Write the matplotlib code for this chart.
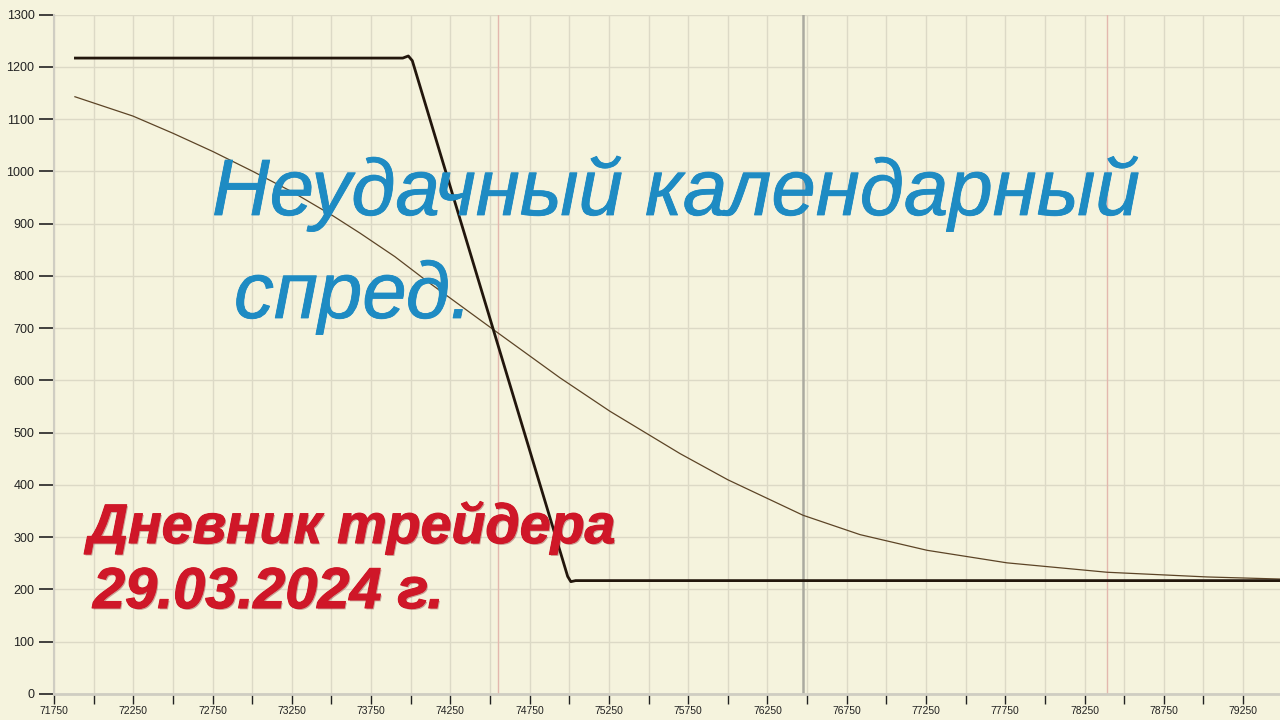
import matplotlib
matplotlib.use("Agg")
import matplotlib.pyplot as plt
import matplotlib.patheffects as pe

# ---- data ----
thick_x = [71885, 73950, 73985, 74010, 74990, 75010, 75040, 79483]
thick_y = [1217, 1217, 1221, 1212, 225, 215, 217, 217]

thin_x = [71882, 72248, 72501, 72753, 73005, 73258, 73510, 73680, 73900, 74103, 74532,
          74942, 75257, 75699, 76000, 76475, 76834, 77257, 77761, 78392, 79023, 79484]
thin_y = [1143, 1106, 1073, 1038, 1000, 960, 915, 882, 837, 790, 695,
          605, 541, 460, 410, 342, 305, 275, 251, 233, 224, 220]

red_lines = [74550, 78393]
grey_line = 76475

x_major = list(range(71750, 79500, 500))
x_minor = list(range(72000, 79500, 500))
y_ticks = list(range(0, 1301, 100))

title1 = "Неудачный календарный"
title2 = "спред."
sub1 = "Дневник трейдера"
sub2 = "29.03.2024 г."

# ---- figure ----
W, H = 1280, 720
bg = "#F5F3DD"
fig = plt.figure(figsize=(W / 100, H / 100), dpi=100, facecolor=bg)
ax = fig.add_axes([54 / W, 1 - 694 / H, 1 - 54 / W, (694 - 14.7) / H])
ax.set_facecolor(bg)
ax.set_xlim(71750, 79483)
ax.set_ylim(0, 1300)

grid_c = "#DCD9C6"
for xv in sorted(x_major + x_minor):
    ax.axvline(xv, color=grid_c, lw=1.0, zorder=1)
for yv in y_ticks:
    ax.axhline(yv, color=grid_c, lw=1.0, zorder=1)

for xv in red_lines:
    ax.axvline(xv, color="#E3B7AE", lw=1.0, zorder=2)
ax.axvline(grey_line, color="#ABAAA0", lw=1.8, zorder=2)

ax.plot(thin_x, thin_y, color="#5C4426", lw=0.9, zorder=3)
ax.plot(thick_x, thick_y, color="#22160C", lw=2.0, zorder=4, solid_joinstyle="round")

ax.set_xticks(x_major)
ax.set_xticks(x_minor, minor=True)
ax.set_xticklabels([str(v) for v in x_major])
ax.set_yticks(y_ticks)
ax.set_yticklabels([str(v) for v in y_ticks])
ax.tick_params(axis="x", which="both", length=7, width=1, color="#222222",
               labelsize=7.5, labelcolor="#222222", pad=2)
ax.tick_params(axis="y", length=11, width=1.2, color="#222222",
               labelsize=9, labelcolor="#222222", pad=3)
for lab in ax.get_xticklabels() + ax.get_yticklabels():
    lab.set_fontfamily("Liberation Sans")

for s in ["top", "right"]:
    ax.spines[s].set_visible(False)
ax.spines["left"].set_color("#CFCDC2")
ax.spines["left"].set_linewidth(1.5)
ax.spines["bottom"].set_color("#CFCDC2")
ax.spines["bottom"].set_linewidth(2.0)

# ---- overlay text ----
blue = "#1E8BC3"
red = "#CF1728"
blue_fx = [pe.withStroke(linewidth=0.6, foreground=blue)]
fig.text(212 / W, 1 - 215 / H, title1, color=blue, fontsize=57.5, style="italic",
         family="Liberation Sans", va="baseline", ha="left", zorder=10, path_effects=blue_fx)
fig.text(234 / W, 1 - 318 / H, title2, color=blue, fontsize=57.5, style="italic",
         family="Liberation Sans", va="baseline", ha="left", zorder=10, path_effects=blue_fx)
red_fx = [pe.withSimplePatchShadow(offset=(1.0, -1.0), shadow_rgbFace="#7A0A12", alpha=0.35),
          pe.withStroke(linewidth=0.8, foreground=red)]
fig.text(88 / W, 1 - 543 / H, sub1, color=red, fontsize=40, style="italic", weight="bold",
         family="Liberation Sans", va="baseline", ha="left", zorder=10, path_effects=red_fx)
fig.text(93 / W, 1 - 608 / H, sub2, color=red, fontsize=41.5, style="italic", weight="bold",
         family="Liberation Sans", va="baseline", ha="left", zorder=10, path_effects=red_fx)

fig.savefig("out.png", dpi=100, facecolor=bg)
